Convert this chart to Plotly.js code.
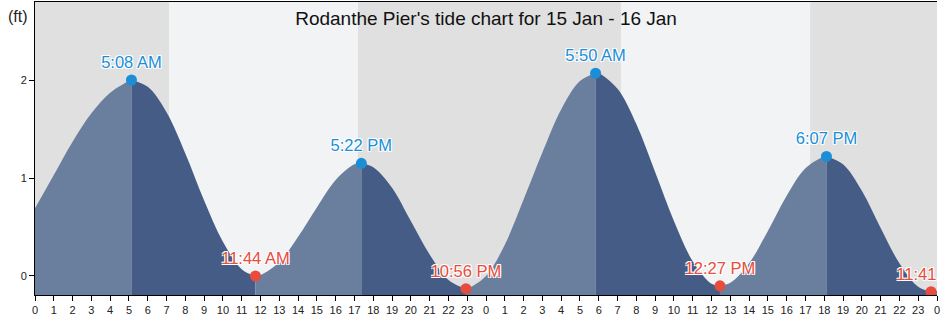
<!DOCTYPE html>
<html>
<head>
<meta charset="utf-8">
<script src="https://cdn.plot.ly/plotly-3.0.1.min.js"></script>
<style>html,body{margin:0;padding:0;background:#fff;}#chart{width:942px;height:318px;}</style>
</head>
<body>
<div id="chart"></div>
<script>
// Hourly tide heights (ft), hours 0..48
const hours = [0,1,2,3,4,5,6,7,8,9,10,11,12,13,14,15,16,17,18,19,20,21,22,23,24,25,26,27,28,29,30,31,32,33,34,35,36,37,38,39,40,41,42,43,44,45,46,47,48];
const heights = [0.69,1.03,1.37,1.66,1.87,1.99,1.93,1.67,1.25,0.77,0.35,0.07,0.01,0.14,0.40,0.70,0.98,1.14,1.11,0.90,0.56,0.22,-0.04,-0.13,0.00,0.32,0.78,1.26,1.70,1.99,2.07,1.91,1.55,1.06,0.56,0.15,-0.08,-0.07,0.13,0.46,0.82,1.10,1.22,1.14,0.87,0.49,0.13,-0.11,-0.15];

// High / low tides
const extremeTimes  = [5.133, 11.733, 17.367, 22.933, 29.833, 36.45, 42.117, 47.683];
const extremeValues = [2.00, 0.00, 1.15, -0.13, 2.07, -0.10, 1.22, -0.16];
const extremeLabels = ["5:08 AM","11:44 AM","5:22 PM","10:56 PM","5:50 AM","12:27 PM","6:07 PM","11:41 PM"];
const extremeKinds  = ["high","low","high","low","high","low","high","low"];

// Sun times (hours from start)
const sunrises = [7.13, 31.18];
const sunsets  = [17.19, 41.25];

// Tick labels
const tickHours = hours;
const tickLabels = ["0","1","2","3","4","5","6","7","8","9","10","11","12","13","14","15","16","17","18","19","20","21","22","23","0","1","2","3","4","5","6","7","8","9","10","11","12","13","14","15","16","17","18","19","20","21","22","23","0"];

const LIGHT = "#6a7e9e";
const DARK  = "#455d86";
const NIGHT = "#e0e0e0";
const DAY   = "#f2f3f5";
const BLUE  = "#1a8fd8";
const RED   = "#e84c3d";
const BASE  = -1;

// merge points
let pts = hours.map((h,i)=>({t:h, v:heights[i]}));
extremeTimes.forEach((t,i)=>pts.push({t:t, v:extremeValues[i]}));
pts.sort((a,b)=>a.t-b.t);

const bounds = [hours[0]].concat(extremeTimes).concat([hours[hours.length-1]]);
const traces = [];
for (let s = 0; s < bounds.length-1; s++) {
  const a = bounds[s], b = bounds[s+1];
  const seg = pts.filter(p => p.t >= a - 1e-9 && p.t <= b + 1e-9);
  const xs = seg.map(p=>p.t), ys = seg.map(p=>p.v);
  let rising;
  if (s < extremeKinds.length) rising = extremeKinds[s] === "high";
  else rising = extremeKinds[extremeKinds.length-1] === "low";
  traces.push({x: xs, y: xs.map(()=>BASE), mode:"lines", line:{width:0}, hoverinfo:"skip", showlegend:false});
  traces.push({x: xs, y: ys, mode:"lines", line:{width:0, shape:"spline", smoothing:1}, fill:"tonexty",
               fillcolor: rising ? LIGHT : DARK, hoverinfo:"skip", showlegend:false});
}

const textShadow = "1px 1px 0 #fff, -1px -1px 0 #fff, 1px -1px 0 #fff, -1px 1px 0 #fff";
["high","low"].forEach(kind=>{
  const idx = extremeKinds.map((k,i)=>k===kind?i:-1).filter(i=>i>=0);
  const col = kind==="high"?BLUE:RED;
  traces.push({
    x: idx.map(i=>extremeTimes[i]), y: idx.map(i=>extremeValues[i]),
    text: idx.map(i=>extremeLabels[i]),
    mode:"markers+text", textposition:"top center", cliponaxis:true,
    marker:{color:col, size:11},
    textfont:{family:"Liberation Sans, Arial, sans-serif", size:16.5, color:col, shadow:textShadow},
    hoverinfo:"skip", showlegend:false
  });
});

const shapes = [];
const nightStarts = [0].concat(sunsets);
const nightEnds = sunrises.concat([48]);
nightStarts.forEach((st,i)=>{
  shapes.push({type:"rect", xref:"x", yref:"paper", x0:st, x1:nightEnds[i], y0:0, y1:1, fillcolor:NIGHT, line:{width:0}, layer:"below"});
});

const layout = {
  width:942, height:318,
  margin:{l:35, r:5, t:2, b:23, pad:0},
  paper_bgcolor:"#fff", plot_bgcolor:DAY,
  font:{family:"Liberation Sans, Arial, sans-serif", color:"#222"},
  title:{text:"Rodanthe Pier's tide chart for 15 Jan - 16 Jan", font:{size:19, color:"#111"},
         x:0.516, xanchor:"center", y:0.943, yanchor:"middle", yref:"container"},
  xaxis:{range:[0,48], tickvals:tickHours, ticktext:tickLabels, ticks:"outside", ticklen:5, tickcolor:"#000",
         showgrid:false, zeroline:false, showline:true, linecolor:"#000", linewidth:1, mirror:true,
         tickfont:{size:11, color:"#222"}, fixedrange:true},
  yaxis:{range:[-0.194, 2.796], tickvals:[0,1,2], ticks:"outside", ticklen:5, tickcolor:"#000",
         showgrid:false, zeroline:false, showline:true, linecolor:"#000", linewidth:1,
         tickfont:{size:11, color:"#222"}, fixedrange:true},
  shapes:shapes,
  annotations:[{text:"(ft)", xref:"paper", yref:"paper", x:-0.0188, y:0.985, xanchor:"center", yanchor:"top",
                showarrow:false, font:{size:16, color:"#222"}}]
};

Plotly.newPlot("chart", traces, layout, {displayModeBar:false, staticPlot:true});
</script>
</body>
</html>
